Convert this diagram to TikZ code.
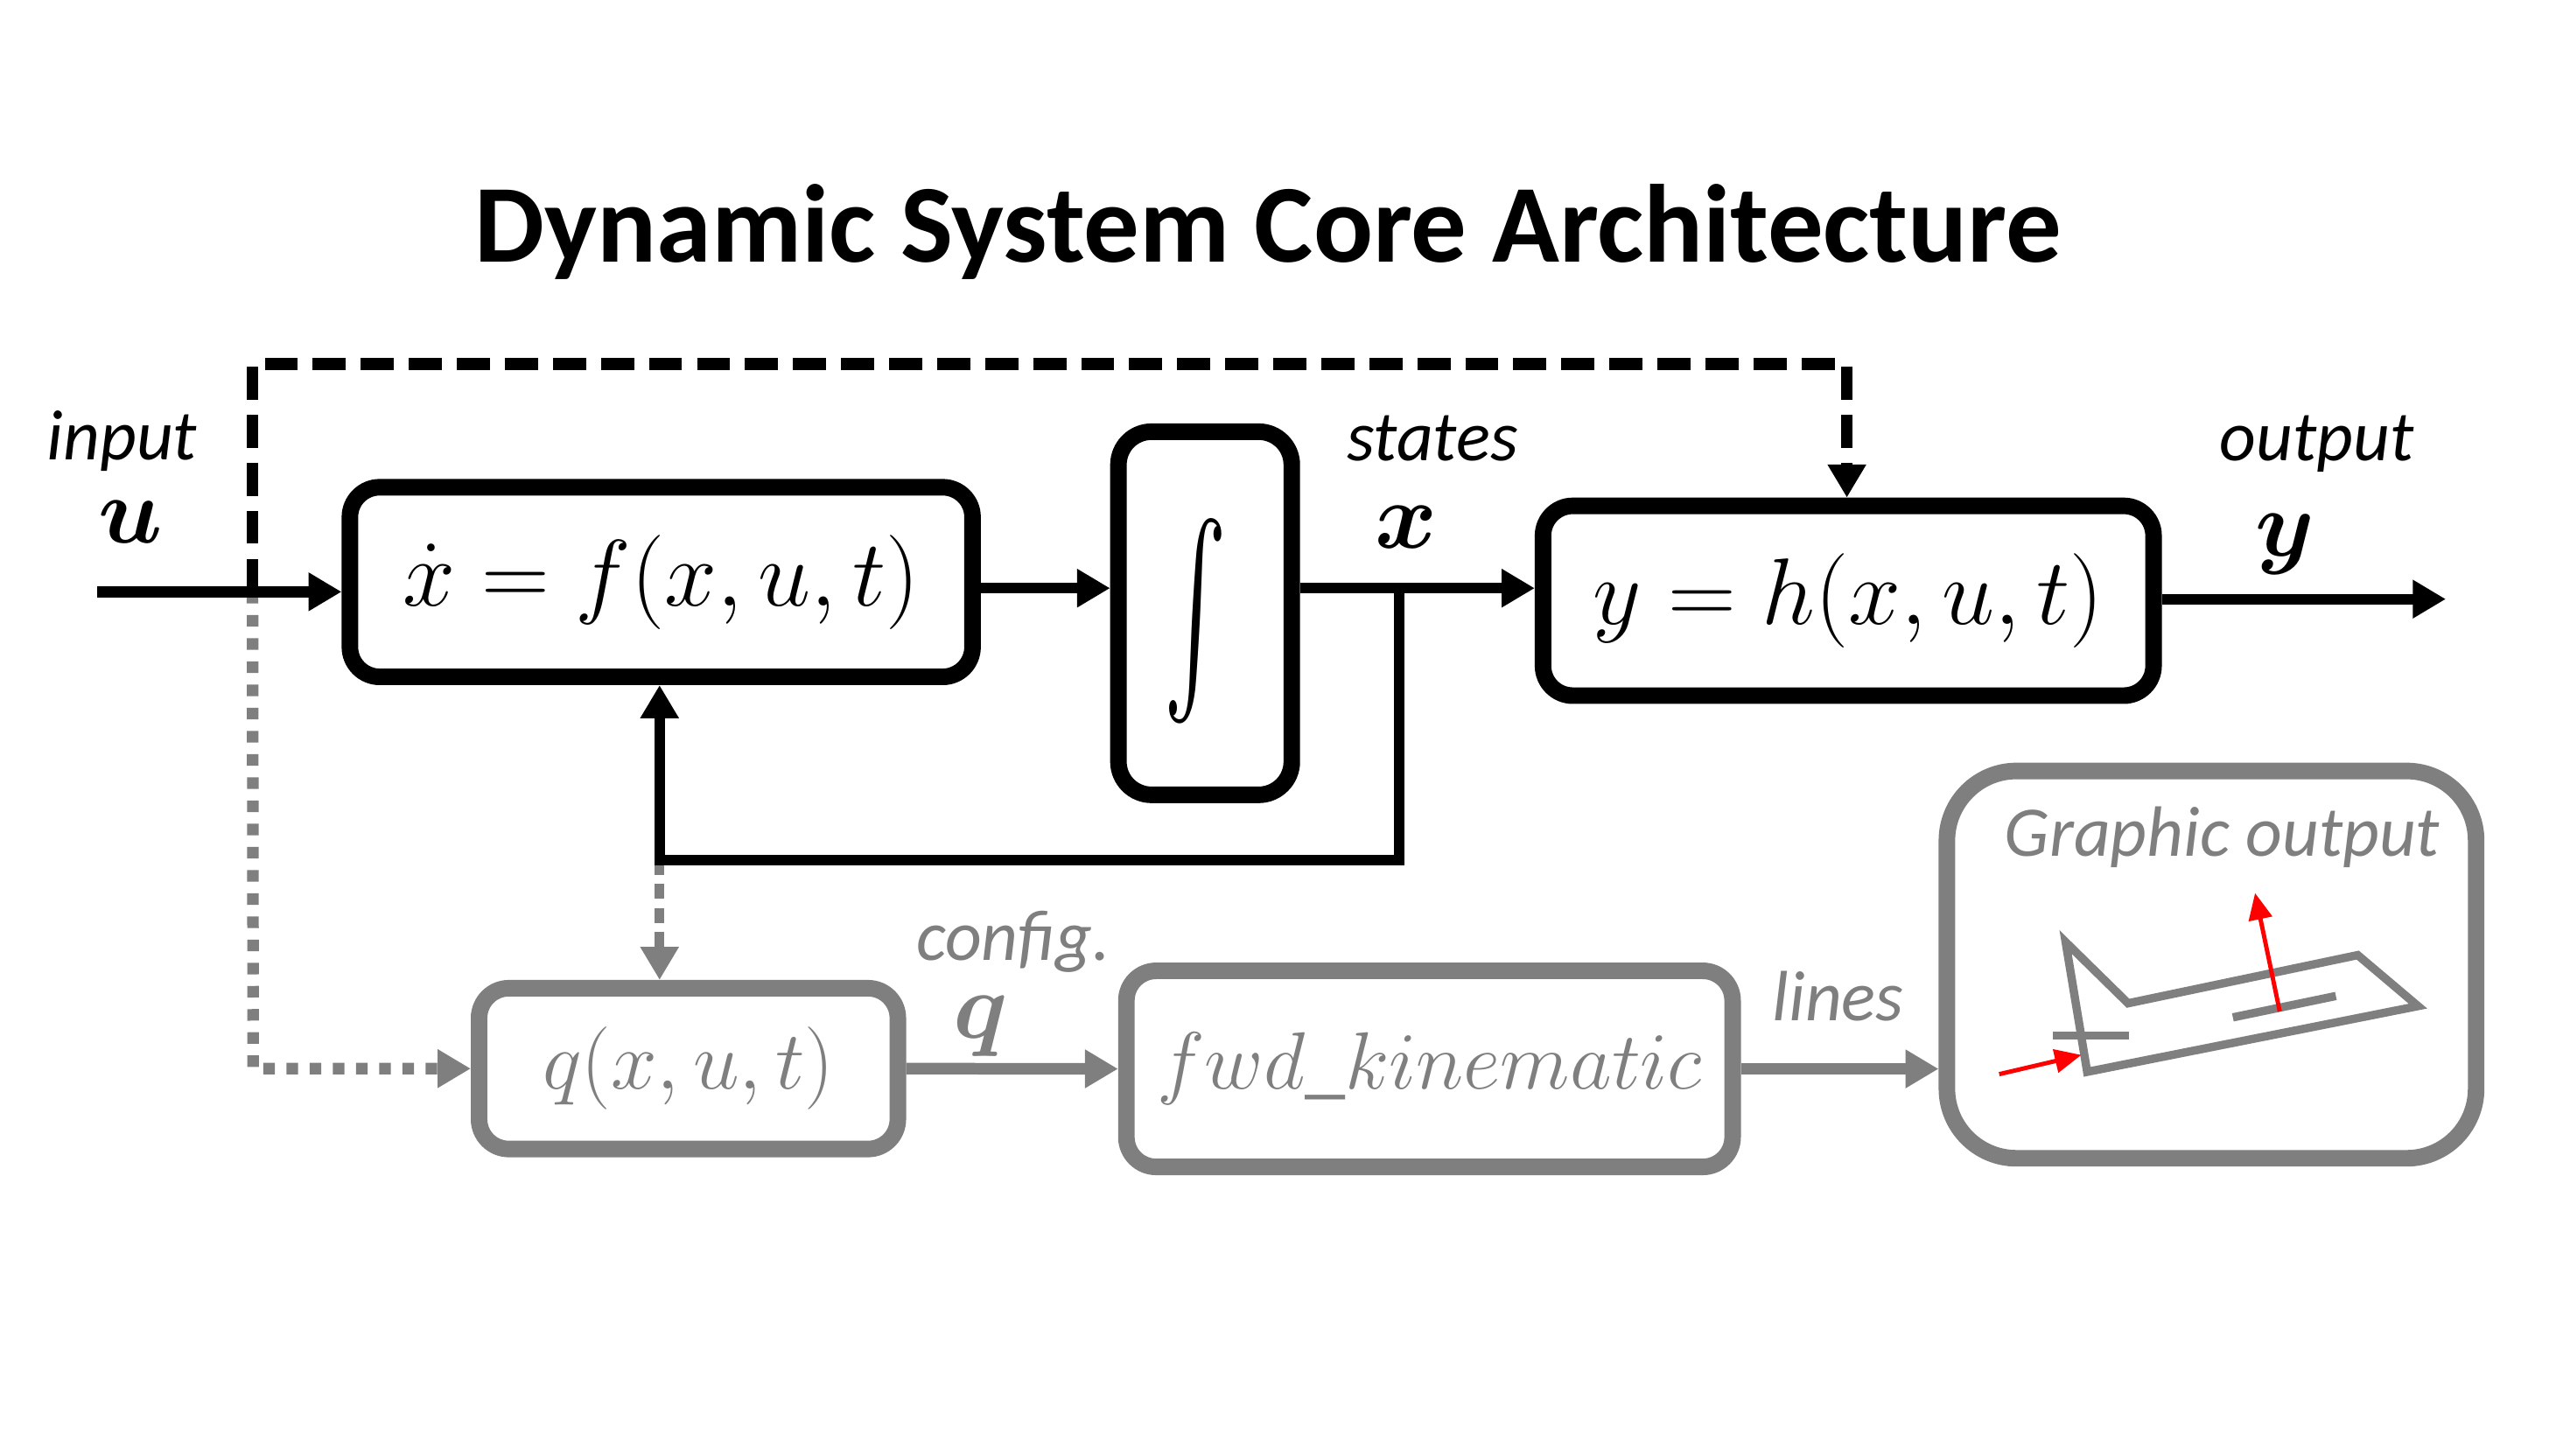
\RequirePackage{fix-cm}
\documentclass[tikz,border=0pt]{standalone}
\usepackage{amsmath}
\usepackage{bm}
\usepackage{graphicx}
\usepackage{fontspec}
\setmainfont{Carlito}
\usetikzlibrary{arrows.meta}
\definecolor{grayc}{RGB}{127,127,127}
\definecolor{redc}{RGB}{255,0,0}
\tikzset{
  blk/.style={draw=black, line width=10pt, rounded corners=18pt, fill=white, inner sep=0pt},
  gbx/.style={draw=grayc, line width=10pt, rounded corners=18pt, fill=white, inner sep=0pt, text=grayc},
  tipb/.style={-{Triangle[length=20pt,width=22pt]}},
  conn/.style={line width=6.5pt, tipb},
  gconn/.style={line width=7pt, draw=grayc, -{Triangle[length=20pt,width=22pt,fill=grayc]}},
  lbl/.style={font=\fontsize{43}{50}\selectfont\itshape, anchor=base, inner sep=0pt},
  bml/.style={font=\fontsize{57}{64}\selectfont, anchor=base, inner sep=0pt},
  bigmath/.style={font=\fontsize{57}{64}\selectfont},
  plane/.style={draw=grayc, line width=5pt},
  redarrow/.style={draw=redc, line width=2.6pt, -{Triangle[length=16pt,width=14pt,fill=redc]}}
}
\begin{document}
\begin{tikzpicture}[x=1pt,y=-1pt]
\useasboundingbox (0,0) rectangle (1552,878.8);

% title
\node[font=\fontsize{67}{76}\selectfont\bfseries, anchor=base, inner sep=0pt] (title) at (766,158.5) {Dynamic System Core Architecture};

% boxes
\node[blk, minimum width=376pt, minimum height=114.5pt, bigmath] (f) at (399.3,351.5) {$\dot{x} = f(x,u,t)$};
\node[blk, rounded corners=20pt, minimum width=104.7pt, minimum height=219.3pt] (int) at (727.75,370.35) {};
\node[inner sep=0pt] (intsign) at (722,375) {\resizebox*{38pt}{124pt}{$\int$}};
\node[blk, minimum width=368.7pt, minimum height=114.6pt, bigmath] (h) at (1116.15,362.8) {$y = h(x,u,t)$\hspace{16pt}};
\node[gbx, minimum width=252.9pt, minimum height=97.1pt, font=\fontsize{50}{58}\selectfont] (q) at (415.75,645.35) {$q(x,u,t)$};
\node[gbx, minimum width=366.1pt, minimum height=118.4pt, font=\fontsize{49}{58}\selectfont] (fk) at (863.25,645.5) {$fwd\_kinematic$};
\node[gbx, rounded corners=42pt, minimum width=319.6pt, minimum height=233.9pt] (g) at (1335.5,582.55) {};

% coordinates
\coordinate (in) at (58.6,357.4);
\coordinate (split) at (152.5,357.4);
\coordinate (dtl) at (152.5,219.8);
\coordinate (dtr) at (1115.3,219.8);
\coordinate (y1) at (0,355.2);
\coordinate (br) at (844.8,355.2);
\coordinate (fbr) at (844.8,519.4);
\coordinate (fbl) at (398.3,519.4);
\coordinate (gdl) at (152.9,645.3);
\coordinate (out) at (1477,361.8);

% dashed black feedthrough
\draw[line width=7pt, dash pattern=on 20pt off 9pt, tipb] (split) -- (dtl) -- (dtr) -- (dtr |- h.north);

% gray dotted
\draw[gconn, dash pattern=on 7pt off 7pt] (split) -- (gdl) -- (q.west);
% gray dashed
\draw[gconn, line width=6pt, dash pattern=on 9pt off 5.5pt] (fbl) -- (fbl |- q.north);

% black connectors
\draw[conn] (in) -- (in -| f.west);
\draw[conn] (f.east |- y1) -- (int.west |- y1);
\draw[conn] (int.east |- y1) -- (h.west |- y1);
\draw[line width=6.5pt, tipb] (br) -- (fbr) -- (fbl) -- (fbl |- f.south);
\draw[conn] (h.east |- out) -- (out);

% gray connectors
\draw[gconn] (q.east) -- (fk.west);
\draw[gconn] (fk.east) -- (fk.east -| g.west);

% labels
\node[lbl] (linput) at (73.7,277.5) {input};
\node[bml] (lu) at (79,328) {$\bm{u}$};
\node[lbl] (lstates) at (865,278) {states};
\node[bml] (lx) at (849,331.2) {$\bm{x}$};
\node[lbl] (loutput) at (1399,278) {output};
\node[bml] (ly) at (1380,335.9) {$\bm{y}$};
\node[lbl, text=grayc] (lconfig) at (612,580) {config.};
\node[bml, text=grayc] (lq) at (592,627) {$\bm{q}$};
\node[lbl, text=grayc] (llines) at (1110,616.5) {lines};
\node[lbl, text=grayc] (lgraphic) at (1342,517) {Graphic output};

% airplane sketch
\draw[plane, line join=miter] (1247.4,568.9) -- (1285.1,605.9) -- (1423.8,576.8) -- (1460.2,607.6) -- (1260.4,647.3) -- cycle;
\draw[plane] (1239.8,625.3) -- (1285.9,625.3);
\draw[plane] (1348.4,614.4) -- (1410.6,601.5);
\draw[redarrow] (1207.3,648.7) -- (1256.9,637.1);
\draw[redarrow] (1376.7,610.8) -- (1361.8,539.3);
\end{tikzpicture}
\end{document}
